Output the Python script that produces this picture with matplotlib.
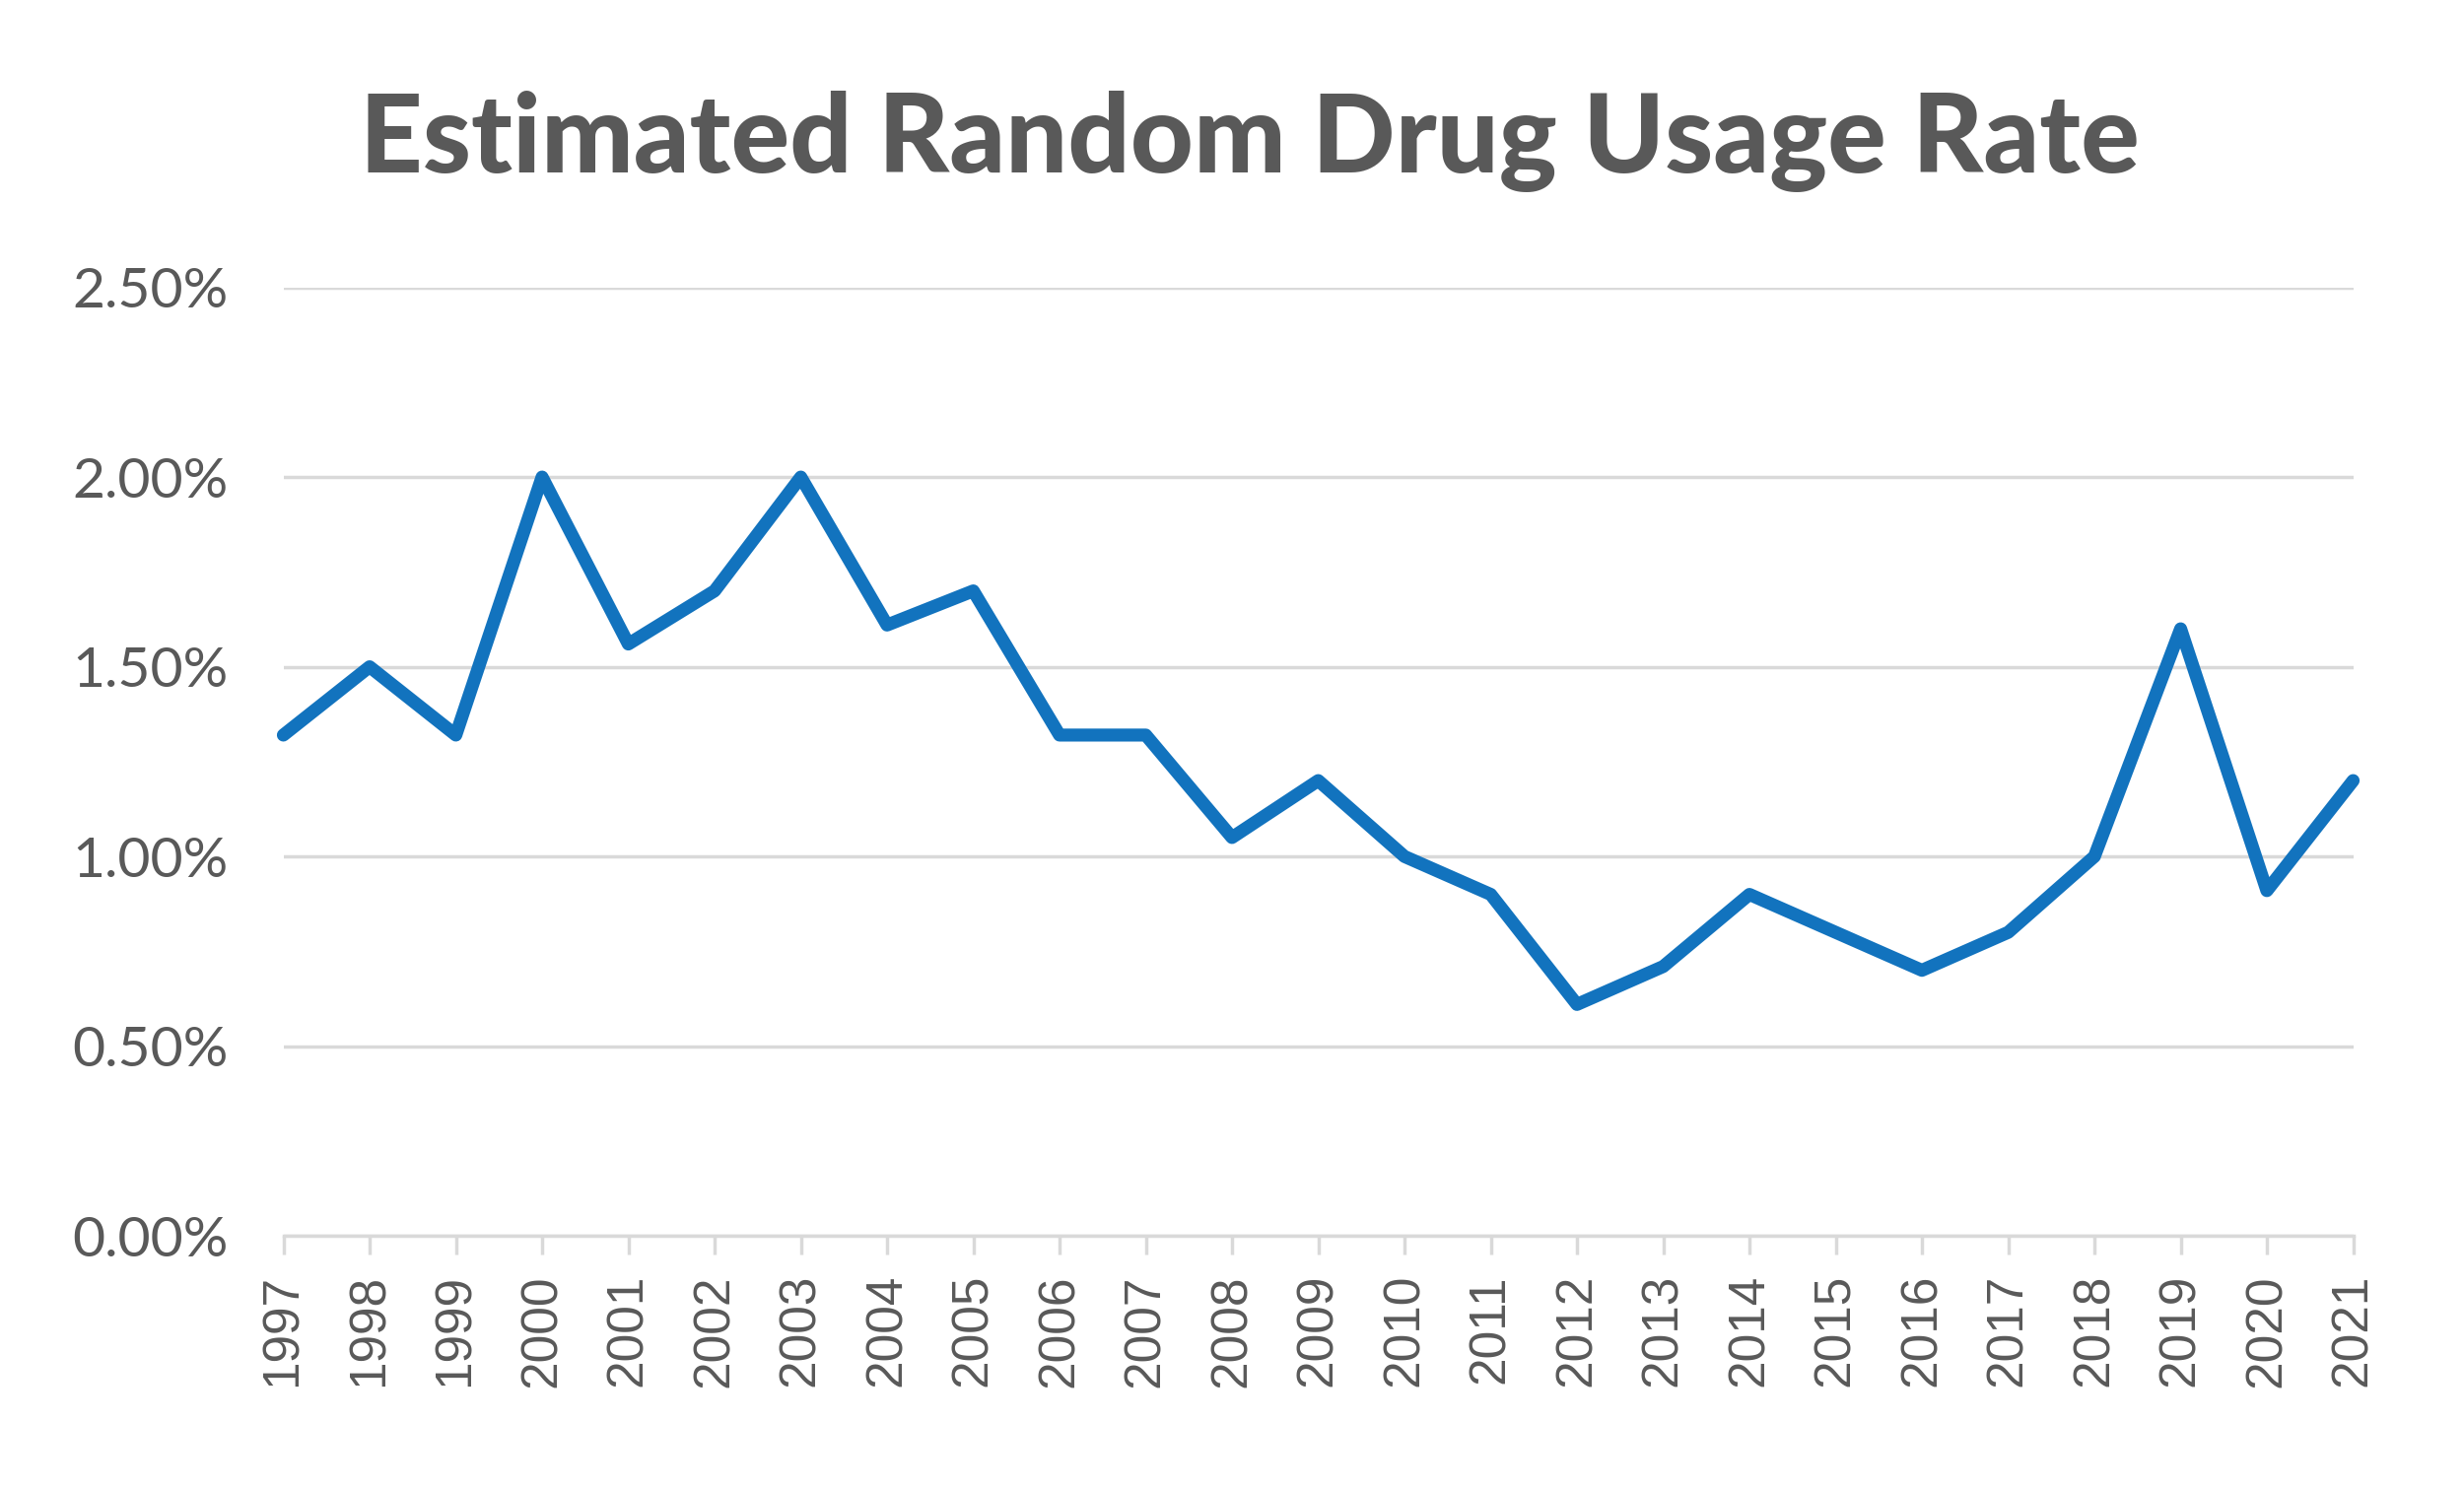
import matplotlib
matplotlib.use("Agg")
import matplotlib.pyplot as plt
from matplotlib.ticker import FuncFormatter

years = list(range(1997, 2022))
rates = [1.32, 1.50, 1.32, 2.00, 1.56, 1.70, 2.00, 1.61, 1.70, 1.32,
         1.32, 1.05, 1.20, 1.00, 0.90, 0.61, 0.71, 0.90, 0.80, 0.70,
         0.80, 1.00, 1.60, 0.91, 1.20]
y_ticks = [0.0, 0.5, 1.0, 1.5, 2.0, 2.5]

TEXT = "#595959"
GRID = "#D9D9D9"
LINE = "#1273BE"

fig = plt.figure(figsize=(25, 15.11), dpi=100)
ax = fig.add_axes([0.115, 0.170, 0.840, 0.637])

ax.plot(years, rates, color=LINE, linewidth=9.5, solid_joinstyle="round",
        solid_capstyle="round", zorder=3, clip_on=False)

ax.set_xlim(years[0], years[-1])
ax.set_ylim(0, 2.5)
ax.set_yticks(y_ticks)
ax.yaxis.set_major_formatter(FuncFormatter(lambda v, p: f"{v:.2f}%"))
ax.set_xticks(years)
ax.set_xticklabels([str(y) for y in years], rotation=90,
                   family="Liberation Sans")

ax.grid(axis="y", color=GRID, linewidth=2.5, zorder=0)
for s in ["top", "right", "left"]:
    ax.spines[s].set_visible(False)
ax.spines["bottom"].set_color(GRID)
ax.spines["bottom"].set_linewidth(2.5)

ax.tick_params(axis="y", length=0, pad=40, labelsize=41, labelcolor=TEXT)
ax.tick_params(axis="x", length=14, width=2.5, color=GRID, pad=14,
               labelsize=37, labelcolor=TEXT)
for lab in ax.get_yticklabels():
    lab.set_family("Lato")

fig.text(0.507, 0.905, "Estimated Random Drug Usage Rate", ha="center",
         va="center", fontsize=80, fontweight="black", family="Lato",
         color=TEXT)

fig.savefig("out.png", dpi=100)
